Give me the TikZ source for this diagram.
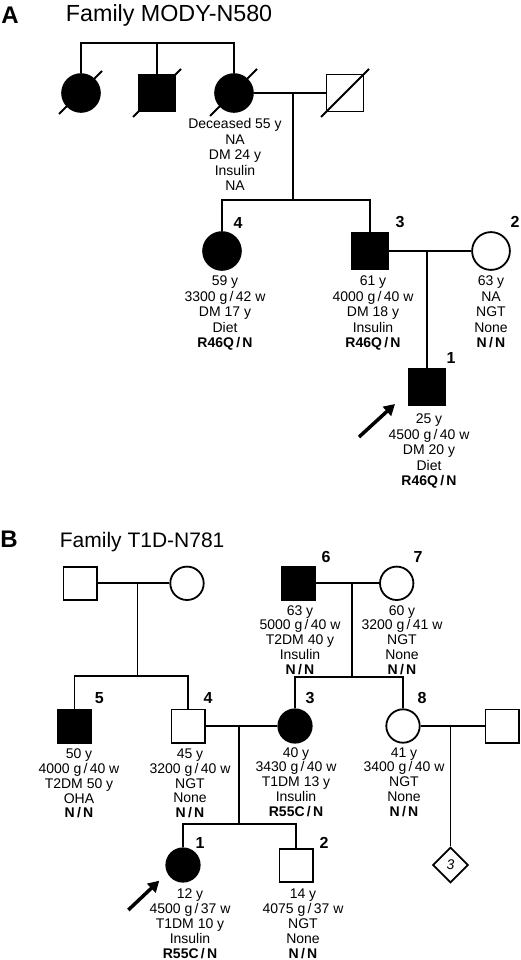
\documentclass[tikz,border=0pt]{standalone}
\usepackage{fontspec}
\setmainfont{Liberation Sans}
\usetikzlibrary{shapes.geometric,arrows.meta,calc}
\newcommand{\pslash}{\hspace{0.16em}/\hspace{0.16em}}
\begin{document}
\begin{tikzpicture}[x=1pt,y=-1pt,line width=1.8pt,
  sqA/.style={draw,rectangle,minimum size=37pt,inner sep=0pt,line width=1.8pt},
  ciA/.style={draw,circle,minimum size=37.8pt,inner sep=0pt,line width=1.8pt},
  sqB/.style={draw,rectangle,minimum size=33.2pt,inner sep=0pt,line width=1.8pt},
  ciB/.style={draw,circle,minimum size=33.4pt,inner sep=0pt,line width=1.8pt},
  aff/.style={fill=black},
  num/.style={font=\fontsize{16}{16}\selectfont\bfseries,inner sep=0pt},
  infoA/.style={anchor=north,align=center,inner sep=0pt,font=\fontsize{14}{15.5}\selectfont},
  infoB/.style={anchor=north,align=center,inner sep=0pt,font=\fontsize{14}{14.8}\selectfont},
  infoC/.style={anchor=north,align=center,inner sep=0pt,font=\fontsize{14}{15}\selectfont},
  title/.style={anchor=west,inner sep=0pt,font=\fontsize{23.3}{24}\selectfont},
  panel/.style={inner sep=0pt,font=\fontsize{24}{24}\selectfont\bfseries},
  prob/.style={line width=3.5pt,-{Triangle[length=11pt,width=12pt]}},
  dec/.style={line width=1.8pt}]
\useasboundingbox (0,0) rectangle (520,960);

% ---------------- Panel A ----------------
\node[panel] (pA) at (10,15) {A};
\node[title] (tA) at (65,15.5) {Family MODY-N580};

\node[ciA,aff] (gm1) at (81,93) {};
\node[sqA,aff] (gu2) at (157,93) {};
\node[ciA,aff] (gm3) at (234,93) {};
\node[sqA] (gf) at (345,93) {};
\draw[dec] ($(gm1)+(-22,21)$) -- ($(gm1)+(21,-22)$);
\draw[dec] ($(gu2)+(-24,24)$) -- ($(gu2)+(24,-24)$);
\draw[dec] ($(gm3)+(-24,23)$) -- ($(gm3)+(23,-24)$);
\draw[dec] ($(gf)+(-24,24)$) -- ($(gf)+(24,-24)$);

\coordinate (topA) at (157,43);
\draw (gm1.north) |- (topA) -| (gm3.north);
\draw (gu2) -- (topA);
\draw (gm3) -- (gf);
\coordinate (mA) at (292.7,93);
\coordinate (sA) at (292.7,200);
\draw (mA) -- (sA);

\node[ciA,aff] (a4) at (222,251) {};
\node[sqA,aff] (a3) at (370,251) {};
\node[ciA] (a2) at (491,251) {};
\draw (a4.north) |- (sA) -| (a3.north);
\draw (a3) -- (a2);
\node[sqA,aff] (a1) at (427,387) {};
\coordinate (mA2) at (427,251);
\draw (mA2) -- (a1);

\node[num] (na4) at (238,223) {4};
\node[num] (na3) at (400,222) {3};
\node[num] (na2) at (515,222) {2};
\node[num] (na1) at (451,358) {1};

\node[infoA] (tgm3) at (235,117.5) {Deceased 55 y\\NA\\DM 24 y\\Insulin\\NA};
\node[infoA] (ta4) at (225,275) {59 y\\3300 g\pslash 42 w\\DM 17 y\\Diet\\\textbf{R46Q\pslash N}};
\node[infoA] (ta3) at (373,275) {61 y\\4000 g\pslash 40 w\\DM 18 y\\Insulin\\\textbf{R46Q\pslash N}};
\node[infoA] (ta2) at (491,275) {63 y\\NA\\NGT\\None\\\textbf{N\pslash N}};
\node[infoA] (ta1) at (429,413) {25 y\\4500 g\pslash 40 w\\DM 20 y\\Diet\\\textbf{R46Q\pslash N}};

\coordinate (arA1) at (359,437);
\coordinate (arA2) at (395,404);
\draw[prob] (arA1) -- (arA2);

% ---------------- Panel B ----------------
\node[panel] (pB) at (9,539) {B};
\node[title,font=\fontsize{21}{21}\selectfont] (tB) at (59,541.7) {Family T1D-N781};

\node[sqB] (bgf) at (80,583.3) {};
\node[ciB] (bgm) at (187,583.3) {};
\draw (bgf) -- (bgm);
\coordinate (mB1) at (137.5,583.3);
\coordinate (sB1) at (137.5,676);
\draw (mB1) -- (sB1);

\node[sqB,aff] (b5) at (74.5,726) {};
\node[sqB] (b4) at (188,726) {};
\draw (b5.north) |- (sB1) -| (b4.north);

\node[sqB,aff] (b6) at (298.3,583.3) {};
\node[ciB] (b7) at (396.7,583.3) {};
\draw (b6) -- (b7);
\coordinate (mB2) at (351.7,583.3);
\coordinate (sB2) at (351.7,676.7);
\draw (mB2) -- (sB2);

\node[ciB,aff] (b3) at (295,726) {};
\node[ciB] (b8) at (403,726) {};
\draw (b3.north) |- (sB2) -| (b8.north);
\draw (b4) -- (b3);

\node[sqB] (b9) at (502,726) {};
\draw (b8) -- (b9);

\coordinate (mB3) at (239.3,726);
\coordinate (sB3) at (239.3,824);
\draw (mB3) -- (sB3);
\node[ciB,aff] (c1) at (183,865) {};
\node[sqB] (c2) at (296,865.5) {};
\draw (c1.north) |- (sB3) -| (c2.north);

\coordinate (mB4) at (450.5,726);
\node[draw,diamond,minimum width=35.5pt,minimum height=35.5pt,inner sep=0pt,line width=1.8pt,font=\fontsize{14}{14}\selectfont\itshape] (d3) at (450.5,865) {3};
\draw (mB4) -- (d3);

\node[num] (nb6) at (326,557.3) {6};
\node[num] (nb7) at (418,557.3) {7};
\node[num] (nb5) at (99.3,697.7) {5};
\node[num] (nb4) at (208,697.7) {4};
\node[num] (nb3) at (310,698.3) {3};
\node[num] (nb8) at (422,698.3) {8};
\node[num] (nc1) at (200,843.3) {1};
\node[num] (nc2) at (324,843.3) {2};

\node[infoB] (tb6) at (300,604.5) {63 y\\5000 g\pslash 40 w\\T2DM 40 y\\Insulin\\\textbf{N\pslash N}};
\node[infoB] (tb7) at (402,604.5) {60 y\\3200 g\pslash 41 w\\NGT\\None\\\textbf{N\pslash N}};
\node[infoB] (tb5) at (79,748) {50 y\\4000 g\pslash 40 w\\T2DM 50 y\\OHA\\\textbf{N\pslash N}};
\node[infoB] (tb4) at (190,748) {45 y\\3200 g\pslash 40 w\\NGT\\None\\\textbf{N\pslash N}};
\node[infoB] (tb3) at (296,746.5) {40 y\\3430 g\pslash 40 w\\T1DM 13 y\\Insulin\\\textbf{R55C\pslash N}};
\node[infoB] (tb8) at (404,746.5) {41 y\\3400 g\pslash 40 w\\NGT\\None\\\textbf{N\pslash N}};
\node[infoC] (tc1) at (190,887.5) {12 y\\4500 g\pslash 37 w\\T1DM 10 y\\Insulin\\\textbf{R55C\pslash N}};
\node[infoC] (tc2) at (303,887.5) {14 y\\4075 g\pslash 37 w\\NGT\\None\\\textbf{N\pslash N}};

\coordinate (arB1) at (128.3,910);
\coordinate (arB2) at (159.3,880.7);
\draw[prob] (arB1) -- (arB2);
\end{tikzpicture}
\end{document}
